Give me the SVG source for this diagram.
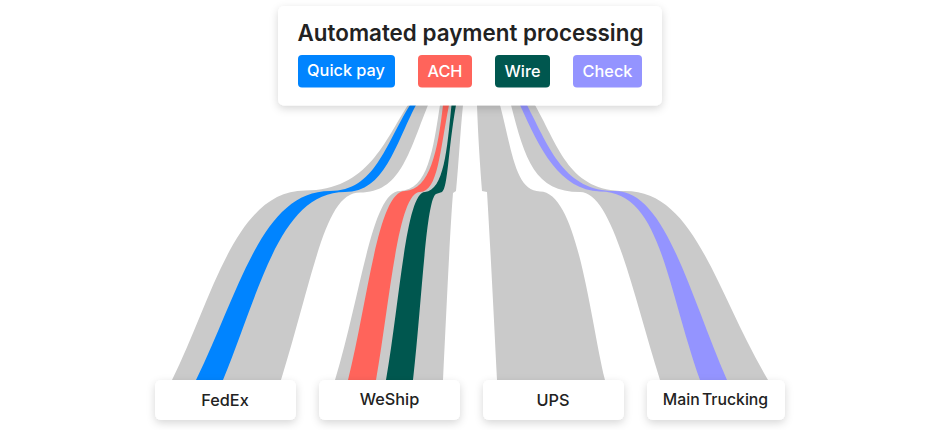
<svg xmlns="http://www.w3.org/2000/svg" width="940" height="430" viewBox="0 0 940 430">
<defs>
<filter id="sh" x="-20%" y="-30%" width="140%" height="170%"><feDropShadow dx="0" dy="3" stdDeviation="4" flood-color="#000" flood-opacity="0.16"/></filter>
<style>
.c{fill:#fff;filter:url(#sh)}
.g{fill:#cacaca}
text{font-family:"Inter","Noto Sans",sans-serif;text-anchor:middle;font-weight:500}
.l{font-size:16.300px;fill:#222}
.w{font-size:16.300px;fill:#fff}
.t{font-size:22.400px;font-weight:600;fill:#222}
</style>
</defs>
<g id="connectors">
<path class="g" d="M408 105C385 140 368 190.500 305 190.500C235 190.500 212 300 172 380H281C315 270 325 192.500 360 192.500C400 192.500 408 155 428 105Z"/>
<path fill="#0084ff" d="M410 105C385 145 375 191 330 191C262 191 240 290 196 380H223C260 290 280 192 345 192C385 192 395 145 416 105Z"/>
<path class="g" d="M440 105C433 150 428 190 400 191C372 191 362 290 335 380H443C447 300 450 230 453 193L456 191C459 160 460 135 463 105Z"/>
<path fill="#ff645b" d="M443 105C438 150 430 190 405 191C378 191 368 300 348 380H376C390 300 398 192 420 192C438 192 440 150 449 105Z"/>
<path fill="#00574f" d="M451.500 105C447 150 444 190 425 192C406 192 400 300 386 380H413C422 300 426 200 436 194L442 192C448 188 448 150 456 105Z"/>
<path class="g" d="M477 105C478 135 480 165 482 191L487 192C490 240 494 320 497 380H605C590 320 578 192 540 191.500C515 191 512 150 500 105Z"/>
<path class="g" d="M511 105C525 160 535 192 580 192C612 192 632 290 660 380H768C715 290 695 191 625 191C570 191 560 150 535 105Z"/>
<path fill="#9494ff" d="M520 105C540 150 560 190 600 191.500C660 192 665 280 700 380H727C688 290 665 191 615 191C565 191 550 150 527 105Z"/>
</g>
<g id="top">
<rect class="c" x="278" y="6" width="384" height="99.500" rx="6"/>
<text class="t" x="470.500" y="41">Automated payment processing</text>
<rect x="298" y="55" width="97" height="32.500" rx="4" fill="#0084ff"/><text class="w" x="346" y="76">Quick pay</text>
<rect x="418" y="55" width="54" height="32.500" rx="4" fill="#ff645b"/><text class="w" x="445" y="77">ACH</text>
<rect x="495" y="55" width="55" height="32.500" rx="4" fill="#00574f"/><text class="w" x="522.500" y="77">Wire</text>
<rect x="573" y="55" width="69" height="32.500" rx="4" fill="#9494ff"/><text class="w" x="607.500" y="77">Check</text>
</g>
<g id="fedex"><rect class="c" x="155" y="380" width="141" height="40" rx="6"/><text class="l" x="225" y="406">FedEx</text></g>
<g id="weship"><rect class="c" x="319" y="380" width="141" height="40" rx="6"/><text class="l" x="389.500" y="405">WeShip</text></g>
<g id="ups"><rect class="c" x="483" y="380" width="141" height="40" rx="6"/><text class="l" x="553" y="406">UPS</text></g>
<g id="main-trucking"><rect class="c" x="647" y="380" width="138" height="40" rx="6"/><text class="l" x="715.500" y="405" style="font-size:15.800px;word-spacing:-2px">Main Trucking</text></g>
</svg>
